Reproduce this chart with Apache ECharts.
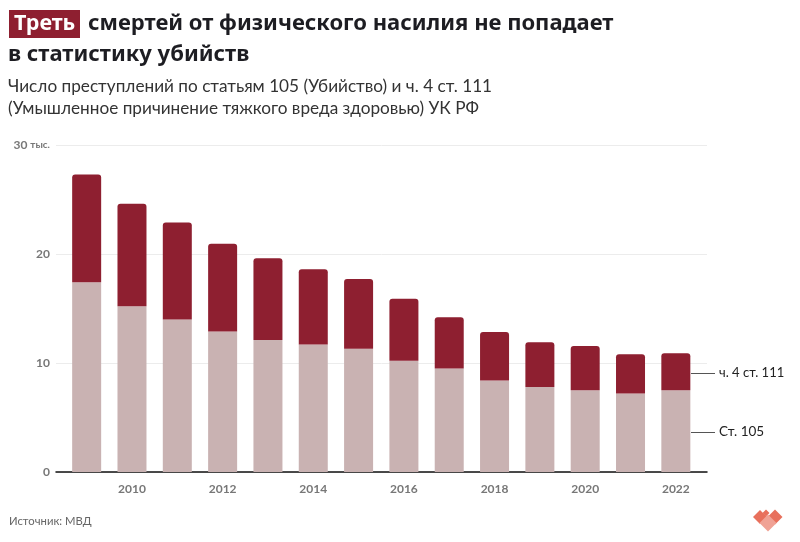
<!DOCTYPE html>
<html>
<head>
<meta charset="utf-8">
<style>html,body{margin:0;padding:0;background:#fff}#chart{width:800px;height:542px}</style>
<script src="https://cdn.jsdelivr.net/npm/echarts@6/dist/echarts.min.js"></script>
</head>
<body>
<div id="chart"></div>
<script>
const years = ["2009","2010","2011","2012","2013","2014","2015","2016","2017","2018","2019","2020","2021","2022"];
const st105 = [17.4,15.2,14.0,12.9,12.1,11.7,11.3,10.2,9.5,8.4,7.8,7.5,7.2,7.5];
const ch4st111 = [9.9,9.4,8.9,8.05,7.5,6.9,6.4,5.7,4.7,4.45,4.1,4.05,3.6,3.4];
const yTicks = {0:"0",10:"10",20:"20",30:"30 тыс."};

const font = "Lato";
const titleFont = "Noto Sans";
const dark = "#8e1f30";
const light = "#c9b2b2";

function txt(x, y, text, size, color, weight, family) {
  return {type:"text", x, y, z:10, style:{text, fontSize:size, fill:color, fontWeight:weight||"normal", fontFamily:family||font, verticalAlign:"middle"}};
}
function line(x1, y1, x2, y2) {
  return {type:"line", z:10, shape:{x1,y1,x2,y2}, style:{stroke:"#555", lineWidth:1}};
}
// logo: small squares turned 45deg
function diamond(cx, cy, r, fill) {
  return {type:"polygon", z:10, shape:{points:[[cx,cy-r],[cx+r,cy],[cx,cy+r],[cx-r,cy]]}, style:{fill}};
}

let myChart = echarts.init(document.getElementById("chart"));

let option = {
  backgroundColor: "#fff",
  animation: false,
  // first grid only carries the long axis line and gridlines, second one the bars
  grid: [
    {left:56, right:93, top:145, height:327},
    {left:64, right:101.5, top:145, height:327}
  ],
  xAxis: [
    {gridIndex:0, type:"value", min:0, max:1, axisLine:{onZero:false, show:true, lineStyle:{color:"#111", width:1.5}}, axisTick:{show:false}, axisLabel:{show:false}, splitLine:{show:false}},
    {gridIndex:1, type:"category", data:years, axisLine:{show:false}, axisTick:{show:false},
      axisLabel:{interval:(i) => i % 2 === 1, color:"#777", fontSize:12, fontFamily:font, fontWeight:"bold", margin:11}}
  ],
  yAxis: [
    {gridIndex:0, type:"value", min:0, max:30, interval:10, axisLine:{show:false}, axisTick:{show:false},
      splitLine:{lineStyle:{color:"#ececec", width:1}},
      axisLabel:{color:"#777", fontSize:12, fontFamily:font, fontWeight:"bold", margin:6, formatter:(v) => v === 30 ? "{k|30} {u|тыс.}" : yTicks[v],
        rich:{k:{color:"#777", fontSize:12, fontFamily:font, fontWeight:"bold"}, u:{color:"#777", fontSize:10, fontFamily:font, fontWeight:"bold"}}}},
    {gridIndex:1, type:"value", min:0, max:30, interval:10, show:false}
  ],
  series: [
    {name:"Ст. 105", type:"bar", stack:"a", xAxisIndex:1, yAxisIndex:1, barWidth:29, data:st105, itemStyle:{color:light}},
    {name:"ч. 4 ст. 111", type:"bar", stack:"a", xAxisIndex:1, yAxisIndex:1, barWidth:29, data:ch4st111, itemStyle:{color:dark, borderRadius:[3,3,0,0]}}
  ],
  graphic: [
    {type:"rect", shape:{x:9, y:10, width:71, height:28}, style:{fill:dark}, z:9},
    txt(14, 24, "Треть", 21.5, "#fff", "bold", titleFont),
    txt(88, 24, "смертей от физического насилия не попадает", 22, "#1d1d22", "bold", titleFont),
    txt(8, 55, "в статистику убийств", 22, "#1d1d22", "bold", titleFont),
    txt(8, 86, "Число преступлений по статьям 105 (Убийство) и ч. 4 ст. 111", 17.2, "#333", "normal"),
    txt(8, 108, "(Умышленное причинение тяжкого вреда здоровью) УК РФ", 17.2, "#333", "normal"),
    line(691, 373.5, 715, 373.5),
    line(691, 432.5, 715, 432.5),
    txt(719, 373, "ч. 4 ст. 111", 13, "#222"),
    txt(719, 432, "Ст. 105", 13.5, "#222"),
    txt(9, 521, "Источник: МВД", 11.3, "#666"),
    diamond(760, 517, 7, "#e8705c"),
    diamond(775, 517, 7.5, "#e8705c"),
    diamond(766, 513, 3.5, "#e8705c"),
    diamond(768, 523, 8.5, "#f0a295")
  ]
};

myChart.setOption(option);
</script>
</body>
</html>
